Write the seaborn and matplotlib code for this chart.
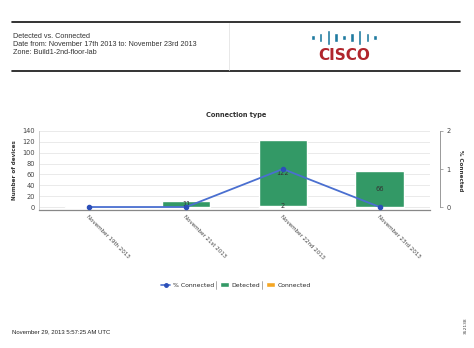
import matplotlib
matplotlib.use("Agg")
import matplotlib.pyplot as plt
from matplotlib.lines import Line2D
from matplotlib.patches import Patch
import seaborn as sns

# Report data
dates = ["November 19th 2013", "November 21st 2013", "November 22nd 2013", "November 23rd 2013"]
connected = [0, 0, 2, 0]
detected = [1, 11, 122, 66]
pct_connected = [0, 0, 1, 0]
left_ticks = [0, 20, 40, 60, 80, 100, 120, 140]
right_ticks = [0, 1, 2]

GREEN = "#339966"
ORANGE = "#f5a623"
BLUE = "#4a6fd0"
MARKER = "#2c4fb8"

sns.set_theme(style="white")
plt.rcParams["font.family"] = ["DejaVu Sans"]

fig = plt.figure(figsize=(4.74, 3.48), dpi=100)
W, H = 474, 348

def fx(px):
    return px / W

def fy(py):
    return 1 - py / H

# Header block
fig.add_artist(Line2D([fx(12), fx(460)], [fy(22), fy(22)], color="#111111", lw=1.2))
fig.add_artist(Line2D([fx(12), fx(460)], [fy(71), fy(71)], color="#111111", lw=1.2))
fig.add_artist(Line2D([fx(229), fx(229)], [fy(23), fy(70)], color="#e4e4e4", lw=0.6))
hdr = dict(fontsize=5.2, color="#333333", ha="left", va="center", family="Liberation Sans")
fig.text(fx(13), fy(36), "Detected vs. Connected", **hdr)
fig.text(fx(13), fy(44.5), "Date from: November 17th 2013 to: November 23rd 2013", **hdr)
fig.text(fx(13), fy(53), "Zone: Build1-2nd-floor-lab", **hdr)

# Logo: bars and wordmark
logo_ax = fig.add_axes([fx(309), fy(45), fx(379) - fx(309), fy(30) - fy(45)])
bar_heights = [0.3, 0.6, 1.0, 0.6, 0.3, 0.6, 1.0, 0.6, 0.3]
logo_ax.bar(range(9), bar_heights, width=0.45, color="#1f7aa0",
            bottom=[(1 - h) / 2 for h in bar_heights])
logo_ax.set_xlim(-0.5, 8.5)
logo_ax.set_ylim(0, 1)
logo_ax.axis("off")
fig.text(fx(344), fy(55), "CISCO", fontsize=11, fontweight="bold", color="#b0252c",
         ha="center", va="center", family="DejaVu Sans")

# Chart title
fig.text(fx(236), fy(115), "Connection type", fontsize=4.8, fontweight="bold",
         color="#333333", ha="center", va="center")

# Main axes
ax = fig.add_axes([fx(39), fy(210), fx(430) - fx(39), fy(131) - fy(210)])
sns.barplot(x=dates, y=connected, ax=ax, color=ORANGE, width=0.5, saturation=1)
sns.barplot(x=dates, y=detected, ax=ax, color=GREEN, width=0.5, saturation=1,
            bottom=connected)

ax.set_xlim(-0.52, 3.52)
ax.set_ylim(-5.5, 140)
ax.set_yticks(left_ticks)
ax.set_yticklabels([str(t) for t in left_ticks])
ax.yaxis.grid(True, color="#e6e6e6", lw=0.6)
ax.set_axisbelow(True)
ax.tick_params(axis="y", length=0, pad=3, labelsize=4.8, labelcolor="#444444")
ax.tick_params(axis="x", length=0, pad=3)
ax.set_xticks(range(len(dates)))
ax.set_xticklabels(dates, rotation=-45, ha="left", va="top", fontsize=4.0,
                   color="#444444", rotation_mode="anchor")
ax.set_xlabel("")
ax.set_ylabel("Number of devices", fontsize=4.1, fontweight="bold", color="#333333",
              labelpad=4)
for side in ["top", "right"]:
    ax.spines[side].set_visible(False)
ax.spines["left"].set_color("#c8c8c8")
ax.spines["left"].set_linewidth(0.6)
ax.spines["bottom"].set_color("#888888")
ax.spines["bottom"].set_linewidth(0.9)

# Value labels in the middle of each segment
for i, (c, d) in enumerate(zip(connected, detected)):
    if d > 1:
        ax.text(i, c + d / 2, str(d), ha="center", va="center", fontsize=4.8,
                color="#333333")
    if c > 0:
        ax.text(i, c / 2, str(c), ha="center", va="center", fontsize=4.8,
                color="#333333")

# Secondary axis: percentage connected
ax2 = ax.twinx()
sns.pointplot(x=dates, y=pct_connected, ax=ax2, color=BLUE, markers="o",
              markersize=3, linewidth=1.3)
for coll in ax2.collections:
    coll.set_facecolor(MARKER)
    coll.set_edgecolor(MARKER)
for ln in ax2.lines:
    ln.set_markerfacecolor(MARKER)
    ln.set_markeredgecolor(MARKER)
ax2.set_xlim(-0.52, 3.52)
ax2.set_ylim(-5.5 * 2 / 140, 2)
ax2.set_yticks(right_ticks)
ax2.set_yticklabels([str(t) for t in right_ticks])
ax2.tick_params(axis="y", length=2, width=0.6, color="#999999", pad=3,
                labelsize=4.8, labelcolor="#444444")
ax2.set_ylabel("% Connected", fontsize=4.1, fontweight="bold", color="#333333",
               rotation=270, labelpad=9)
for side in ["top", "left", "bottom"]:
    ax2.spines[side].set_visible(False)
ax2.spines["right"].set_position(("outward", 7))
ax2.spines["right"].set_color("#999999")
ax2.spines["right"].set_linewidth(0.7)
ax2.spines["right"].set_bounds(0, 2)
ax2.grid(False)
ax2.set_xlabel("")

# Legend
handles = [
    Line2D([], [], color=BLUE, marker="o", markersize=2.5, markerfacecolor=MARKER,
           markeredgecolor=MARKER, lw=1.2),
    Patch(facecolor=GREEN),
    Patch(facecolor=ORANGE),
]
leg = fig.legend(handles, ["% Connected", "Detected", "Connected"], loc="center",
                 bbox_to_anchor=(fx(236), fy(285)), ncol=3, frameon=False,
                 fontsize=4.4, handlelength=1.5, handleheight=0.8,
                 columnspacing=1.0, handletextpad=0.4)

# Thin separators placed just before the second and third legend keys
fig.canvas.draw()
inv = fig.transFigure.inverted()
for patch in leg.get_patches():
    bb = patch.get_window_extent()
    sx = inv.transform((bb.x0 - 4, 0))[0]
    fig.add_artist(Line2D([sx, sx], [fy(281), fy(289)], color="#888888", lw=0.5))

# Footer
fig.text(fx(12), fy(332), "November 29, 2013 5:57:25 AM UTC", fontsize=4.3,
         color="#222222", ha="left", va="center", family="Liberation Sans")
fig.text(fx(466), fy(326), "352138", fontsize=3.2, color="#444444", rotation=90,
         ha="center", va="center")

fig.savefig("out.png", dpi=100, facecolor="white")
